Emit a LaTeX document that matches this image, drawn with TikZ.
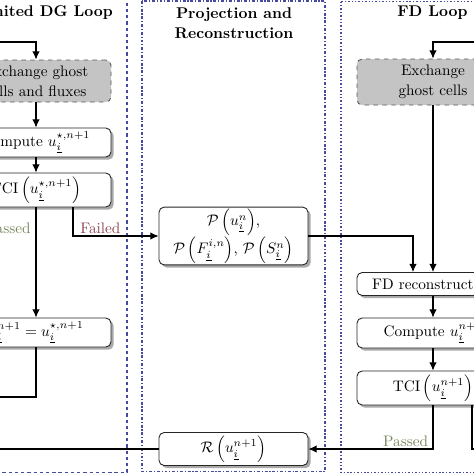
\documentclass[tikz,border=0pt]{standalone}
\usepackage{fix-cm}
\usepackage{amsmath}
\usetikzlibrary{arrows.meta,shadows}
\newcommand\pxu{0.675pt}
\definecolor{frameblue}{RGB}{70,75,160}
\definecolor{failcol}{RGB}{140,70,80}
\definecolor{passcol}{RGB}{120,135,95}
\definecolor{boxgray}{RGB}{196,196,196}
\tikzset{
  every node/.style={font=\fontsize{10.3}{13.6}\selectfont},
  titlenode/.style={font=\fontsize{10.5}{13.9}\selectfont\bfseries, align=center, inner sep=0pt},
  wbox/.style={draw=black!85, rounded corners=3.5pt, fill=white, line width=0.6pt,
    drop shadow={shadow xshift=1.8pt, shadow yshift=-1.8pt, fill=black!45, opacity=0.75},
    align=center, inner sep=1pt},
  gbox/.style={draw=black!65, dashed, rounded corners=3.5pt, fill=boxgray, line width=0.6pt,
    align=center, inner sep=1pt},
  arr/.style={-{Latex[length=5.5pt,width=5pt]}, line width=0.7pt},
  plain/.style={line width=0.7pt},
  frameA/.style={draw=frameblue, line width=1.3pt, dash pattern=on 2.2pt off 2pt},
  frameB/.style={draw=frameblue, line width=1.3pt, dash pattern=on 2pt off 1.2pt on 0.8pt off 1.2pt},
  frameC/.style={draw=frameblue, line width=1.3pt, dash pattern=on 1pt off 1.3pt},
}
\begin{document}
\begin{tikzpicture}[x=0.675pt, y={(0pt,-0.675pt)}]
\useasboundingbox (0,0) rectangle (474,474);
\clip (0,0) rectangle (474,474);

% panel frames
\draw[frameA] (-80,-5) rectangle (127,472.5);
\draw[frameB] (142,1) rectangle (325,471.5);
\draw[frameC] (341,1.5) rectangle (520,472.5);

% titles
\node[titlenode, anchor=east] (tl) at (113,12.5) {Limited DG Loop};
\node[titlenode] (tm) at (234,23) {Projection and\\Reconstruction};
\node[titlenode] (tr) at (432.5,12.5) {FD Loop};

% left column
\node[gbox, minimum width=150*\pxu, minimum height=42*\pxu] (lex) at (36,81) {Exchange ghost\\cells and fluxes};
\node[wbox, minimum width=150*\pxu, minimum height=29*\pxu] (lcomp) at (36,142.5) {Compute $u_{\underline{i}}^{\star,n+1}$};
\node[wbox, minimum width=150*\pxu, minimum height=34*\pxu] (ltci) at (36,190) {TCI\,$\left(u_{\underline{i}}^{\star,n+1}\right)$};
\node[wbox, minimum width=150*\pxu, minimum height=29*\pxu] (lupd) at (36,332.5) {$u_{\underline{i}}^{n+1} = u_{\underline{i}}^{\star,n+1}$};

% middle column
\node[wbox, minimum width=149*\pxu, minimum height=50*\pxu] (proj) at (233.5,236) {$\mathcal{P}\left(u_{\underline{i}}^{n}\right)$,\\$\mathcal{P}\left(F_{\underline{i}}^{i,n}\right)$, $\mathcal{P}\left(S_{\underline{i}}^{n}\right)$};
\node[wbox, minimum width=149*\pxu, minimum height=33*\pxu] (rec) at (233.5,449) {$\mathcal{R}\left(u_{\underline{i}}^{n+1}\right)$};

% right column
\node[gbox, minimum width=152*\pxu, minimum height=46*\pxu] (rex) at (433,82) {Exchange\\ghost cells};
\node[wbox, minimum width=152*\pxu, minimum height=23*\pxu] (rfd) at (433,284) {FD reconstruction};
\node[wbox, minimum width=152*\pxu, minimum height=30*\pxu] (rcomp) at (433,333) {Compute $u_{\underline{i}}^{n+1}$};
\node[wbox, minimum width=152*\pxu, minimum height=34*\pxu] (rtci) at (433,388) {TCI\,$\left(u_{\underline{i}}^{n+1}\right)$};

% free ends
\coordinate (lin) at (-10,42);
\coordinate (rin) at (490,42);
\coordinate (lback) at (-10,397);
\coordinate (recout) at (-10,449);
\coordinate (rfout) at (490,449);

% connectors left
\draw[arr] (lin) -| (lex.north);
\draw[arr] (lex) -- (lcomp);
\draw[arr] (lcomp) -- (ltci);
\draw[arr] (ltci) -- (lupd) node[pos=0.19, left, text=passcol] {Passed};
\draw[arr] ([xshift=37*\pxu]ltci.south) |- (proj.west) node[pos=0.66, above, inner sep=1pt, text=failcol] {Failed};
\draw[plain] (lupd.south) |- (lback);

% connectors middle/right
\draw[arr] (proj.east) -| ([xshift=-20*\pxu]rfd.north);
\draw[arr] (rin) -| (rex.north);
\draw[arr] (rex) -- (rfd);
\draw[arr] (rfd) -- (rcomp);
\draw[arr] (rcomp) -- (rtci);
\draw[arr] (rtci.south) |- (rec.east) node[pos=0.61, above, inner sep=1pt, text=passcol] {Passed};
\draw[plain] ([xshift=39*\pxu]rtci.south) |- (rfout);
\draw[plain] (rec.west) -- (recout);
\end{tikzpicture}
\end{document}
